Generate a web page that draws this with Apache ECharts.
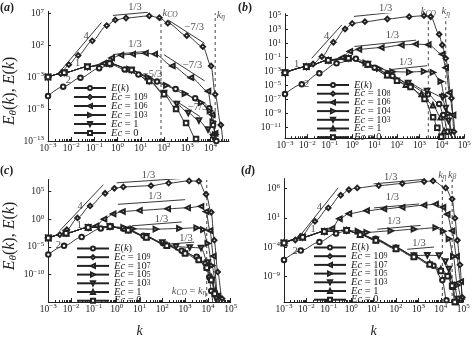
<!DOCTYPE html>
<html><head><meta charset="utf-8">
<script src="https://cdn.jsdelivr.net/npm/echarts@6/dist/echarts.min.js"></script>
<style>html,body{margin:0;padding:0;background:#fff}#c{width:474px;height:339px}</style>
</head><body><div id="c"></div>
<script>
// ---------------- DATA (k, E values) ----------------
// Panel (a)
const aE_k = [1e-3, 4.5e-3, 2.5e-2, 0.16, 0.5, 2, 7.9, 50, 316, 2.2e3, 8.9e3, 1.3e4, 1.8e4];
const aE_v = [1.1e-6, 3.2e-5, 7.9e-4, 2.5e-2, 0.1, 1.6e-2, 2.5e-3, 2e-4, 1.4e-5, 5e-7, 1.3e-8, 3.2e-11, 1e-13];
const a9_k = [1e-3, 3.5e-3, 7.9e-3, 2e-2, 8.1e-2, 0.34, 0.79, 2.3, 23, 63, 145, 955, 4.7e3, 1.07e4, 1.6e4, 2.8e4, 3.5e4];
const a9_v = [1e-3, 3.5e-3, 8.9e-2, 2.5, 4.7e2, 1.15e5, 8.9e5, 1.8e6, 3.8e6, 2e6, 2.8e5, 3.1e3, 59, 5.6e-2, 2e-6, 3.2e-11, 3.2e-14];
const a6_k = [1e-3, 5e-3, 5e-2, 0.25, 0.56, 1.4, 4.5, 16, 40, 230, 1.45e3, 7.9e3, 1.2e4, 1.6e4, 1.9e4];
const a6_v = [1e-3, 5e-3, 4e-2, 0.14, 1, 2.8, 4, 5.6, 4, 5.6e-2, 8.3e-4, 6.3e-6, 1.26e-9, 1.6e-12, 3.2e-14];
const a3_k = [1e-3, 5e-3, 5e-2, 0.45, 3.2, 20, 126, 790, 4e3, 9.5e3, 1.26e4, 1.6e4, 2e4];
const a3_v = [1e-3, 5e-3, 4e-2, 0.14, 1.8e-2, 1e-3, 5e-5, 2.5e-6, 1e-7, 5e-9, 1e-10, 1e-12, 3.2e-14];
const a1_k = [1e-3, 5e-3, 5e-2, 0.45, 4, 23, 100, 355, 1.1e3, 3.2e3, 7.9e3, 1.3e4, 1.6e4];
const a1_v = [1e-3, 5e-3, 4e-2, 0.14, 1.26e-2, 2.5e-4, 3.2e-6, 6.3e-8, 2.5e-9, 1.6e-10, 6.3e-12, 4e-13, 3.2e-14];
const a0_k = [1e-3, 5e-3, 5e-2, 0.45, 4, 23, 100, 330, 890, 2.4e3, 3.2e3];
const a0_v = [1e-3, 5e-3, 4e-2, 0.14, 1.26e-2, 2.5e-4, 2e-6, 1e-8, 6.3e-11, 2e-13, 2.5e-14];
const aRef = [ // [k1,k2],[E1,E2]
  [[3.3e-3, 0.2], [7.4e-3, 3.5e5]],
  [[0.63, 20], [4.5e6, 1.4e7]],
  [[0.63, 20], [3.5, 11]],
  [[4, 40], [1.6e-2, 3.4e-4]],
  [[158, 5.6e3], [7.9e5, 190]],
  [[100, 5.6e3], [3.2, 2.6e-4]],
  [[316, 3.5e3], [2e-7, 7e-10]]
];
const aLab = [['4', 4.4e-2, 2.8e3], ['1/3', 5.6, 1e8], ['1/3', 5.6, 160], ['1', 1.9e-2, 0.15], ['2', 7.6e-3, 3.2e-4],
  ['−5/3', 32, 3.2e-3], ['−7/3', 2e3, 5.6e4], ['−7/3', 1.7e3, 7.9e-2], ['−7/3', 2.8e3, 2e-8]];
const aVert = [[74, 1.6e6, '{i|k}{s|CO}', 1e7], [1.6e4, 1e7, '{i|k}{s|η}', 5.4e6]];

// Panel (b)
const bE_k = [1e-3, 5.6e-3, 3.4e-2, 0.2, 1.45, 10, 63, 410, 2.4e3, 7.6e3, 1.17e4, 1.8e4, 2.1e4];
const bE_v = [6.3e-7, 1.6e-5, 5.9e-4, 1.6e-2, 7.1e-2, 3.7e-3, 2.5e-4, 1e-5, 5.9e-7, 2.5e-8, 6.5e-10, 2.7e-12, 1e-13];
const b8_k = [1e-3, 8.9e-3, 1.8e-2, 4.4e-2, 0.145, 0.48, 1, 3.7, 37, 350, 1.6e3, 3.2e3, 7.6e3, 1.05e4, 1.5e4, 2.7e4, 3.5e4, 4e4];
const b8_v = [7.1e-4, 5.1e-3, 1.26e-2, 0.14, 16, 1.26e3, 7.9e3, 1.4e4, 3.4e4, 7.2e4, 1e5, 7.1e4, 220, 6.5, 8.1e-2, 1.6e-7, 2.7e-12, 1e-13];
const b6_k = [1e-3, 8.9e-3, 8.5e-2, 0.355, 0.79, 2, 20, 158, 680, 2.5e3, 1.05e4, 1.5e4, 2.2e4, 3.2e4, 4e4];
const b6_v = [7.1e-4, 5.1e-3, 4.3e-2, 0.1, 0.79, 1.6, 2.8, 6.3, 8.9, 7.1, 0.31, 3.7e-3, 1e-6, 6.5e-10, 1e-13];
const b4_k = [1e-3, 8.9e-3, 8.5e-2, 0.68, 4, 16, 63, 350, 1.6e3, 4e3, 8.9e3, 1.3e4, 2e4, 2.8e4];
const b4_v = [7.1e-4, 5.1e-3, 4.3e-2, 8.1e-2, 1.8e-2, 2.8e-3, 1e-3, 8.9e-4, 1.1e-3, 7.9e-4, 4e-5, 3.2e-7, 1e-9, 1.6e-13];
const b3_k = [1e-3, 8.9e-3, 8.5e-2, 0.68, 5, 40, 316, 2.2e3, 1.05e4, 1.5e4, 2e4, 2.5e4, 2.8e4];
const b3_v = [7.1e-4, 5.1e-3, 4.3e-2, 8.1e-2, 1.26e-2, 5e-4, 2.5e-5, 1.7e-6, 2.5e-7, 6.3e-9, 1e-10, 2.5e-12, 1e-13];
const b1_k = [1e-3, 8.9e-3, 8.5e-2, 0.68, 5, 37, 250, 1.26e3, 4e3, 8.9e3, 1.26e4, 1.6e4];
const b1_v = [7.1e-4, 5.1e-3, 4.3e-2, 8.1e-2, 1.1e-2, 3.5e-4, 1.4e-5, 6.3e-7, 1.6e-8, 3.2e-10, 3.2e-12, 1e-13];
const b0_k = [1e-3, 8.9e-3, 8.5e-2, 0.68, 5, 37, 100, 400, 1.7e3, 4.1e3, 6.3e3, 9.5e3, 1.12e4];
const b0_v = [7.1e-4, 5.1e-3, 4.3e-2, 8.1e-2, 1.1e-2, 3.2e-4, 5e-5, 6.3e-6, 1.26e-7, 3.2e-10, 1e-11, 5e-13, 6.3e-14];
const bRef = [
  [[1.55e-2, 0.34], [8.1e-2, 4.7e3]],
  [[1.2, 680], [7.9e4, 6.3e5]],
  [[1.26, 710], [4, 32]],
  [[50, 2.2e3], [2e-3, 7.1e-3]]
];
const bLab = [['4', 7.2e-2, 100], ['1/3', 31, 1.15e6], ['1/3', 62, 174], ['1/3', 245, 2.2e-2], ['1', 3.3e-3, 1e-2], ['2', 9.3e-3, 1.7e-5]];
const bVert = [[2.5e3, 6.3e4, '{i|k}{s|CO}', 3.7e5], [1.5e4, 6.3e4, '{i|k}{s|η}', 3.7e5]];

// Panel (c)
const cE_k = [1e-3, 4.9e-3, 2.9e-2, 0.2, 0.56, 2, 15, 105, 710, 3.2e3, 7.9e3, 1.15e4, 1.4e4, 1.66e4];
const cE_v = [4e-7, 1.5e-5, 6e-4, 2.1e-2, 5e-2, 1.8e-2, 1e-3, 5e-5, 2e-6, 1.6e-7, 1e-8, 3.2e-11, 1e-13, 3.2e-16];
const c9_k = [1e-3, 3.2e-3, 6.5e-3, 1.9e-2, 6.8e-2, 0.31, 0.79, 1.95, 32, 190, 1.5e3, 4e3, 8.3e3, 1.4e4, 1.9e4, 2.7e4, 4.2e4, 4.6e4];
const c9_v = [4e-4, 1.6e-3, 1.26e-2, 1.7, 257, 5.1e4, 4e5, 7.2e5, 1.2e6, 3.5e6, 8.9e6, 7.9e6, 3.4e4, 18, 1.6e-4, 2.8e-10, 4e-15, 3.2e-16];
const c7_k = [1e-3, 6e-3, 5.6e-2, 0.126, 0.28, 0.7, 1.8, 10, 174, 1.3e3, 5e3, 8.3e3, 1.23e4, 1.74e4, 2.7e4, 3.2e4];
const c7_v = [4e-4, 3e-3, 3.2e-2, 6.3e-2, 1, 8.9, 25, 40, 79, 117, 220, 24, 8.5e-3, 2.1e-7, 1.26e-14, 3.2e-16];
const c5_k = [1e-3, 6e-3, 5.6e-2, 0.51, 2, 5, 52, 560, 3.2e3, 6.3e3, 9.8e3, 1.5e4, 2.7e4, 3e4];
const c5_v = [4e-4, 3e-3, 3.2e-2, 4.7e-2, 3.2e-2, 1.8e-2, 1.6e-2, 2.1e-2, 2.8e-2, 1.26e-2, 4.2e-5, 4e-9, 7.9e-15, 3.2e-16];
const c3_k = [1e-3, 6e-3, 5.6e-2, 0.51, 3.2, 20, 100, 400, 1.6e3, 5e3, 9.8e3, 1.5e4, 2.3e4, 2.6e4];
const c3_v = [4e-4, 3e-3, 3.2e-2, 4.7e-2, 1.26e-2, 7.9e-4, 6.3e-5, 1.1e-5, 7.9e-6, 6.3e-6, 1.5e-8, 1e-11, 4e-15, 3.2e-16];
const c1_k = [1e-3, 6e-3, 5.6e-2, 0.51, 3.2, 20, 158, 1e3, 4e3, 8.9e3, 1.4e4, 2.1e4, 2.6e4];
const c1_v = [4e-4, 3e-3, 3.2e-2, 4.7e-2, 1.1e-2, 6.3e-4, 2.2e-5, 1e-6, 7.9e-8, 4e-9, 3.2e-11, 1e-13, 3.2e-16];
const c0_k = [1e-3, 6e-3, 5.6e-2, 0.51, 3.2, 20, 158, 1e3, 4e3, 8.9e3, 1.4e4, 2e4, 2.5e4];
const c0_v = [4e-4, 3e-3, 3.2e-2, 4.7e-2, 1e-2, 5e-4, 1.6e-5, 6.3e-7, 4e-8, 1.6e-9, 1e-11, 3.2e-14, 3.2e-16];
const cRef = [
  [[3.2e-3, 0.26], [8.5e-3, 1.8e6]],
  [[1, 794], [4e6, 2.5e7]],
  [[1.12, 1e3], [500, 3.5e3]],
  [[4.6, 710], [6.3e-2, 0.32]],
  [[200, 2.5e3], [3.2e-5, 7.1e-5]]
];
const cLab = [['4', 2.5e-2, 257], ['1/3', 25, 1e8], ['1/3', 48, 1.7e4], ['1/3', 93, 0.85], ['1/3', 1.1e3, 4e-4],
  ['1', 2.3e-2, 9.3e-2], ['2', 2.75e-3, 2.2e-5], ['{i|k}{s|CO}{n| = }{i|k}{s|η}', 1.5e3, 1e-13]];
const cVert = [[8.9e3, 1.26e7, '', 1]];

// Panel (d)
const dE_k = [1e-3, 5.6e-3, 3.8e-2, 0.21, 0.63, 2.5, 12.3, 98, 680, 4.7e3, 1.17e4, 1.8e4, 2e4];
const dE_v = [6.3e-7, 2.5e-5, 7.2e-4, 2.1e-2, 6.3e-2, 1.6e-2, 2.5e-3, 7.8e-5, 2.6e-6, 6.2e-8, 2.2e-10, 7.9e-14, 1e-14];
const d9_k = [1e-3, 3.2e-3, 5.6e-3, 2.4e-2, 9.5e-2, 0.34, 0.79, 1.86, 17, 190, 1.8e3, 4.5e3, 1.66e4, 3.2e4, 4.3e4, 5.5e4, 7.2e4, 9.1e4, 9.8e4];
const d9_v = [5e-4, 1.6e-3, 6.3e-3, 2.5, 490, 7.2e4, 6.3e5, 1.3e6, 3.2e6, 7.1e6, 1.6e7, 2e7, 1.3e6, 1.6e4, 8.7, 1.4e-3, 8.9e-8, 2.5e-13, 1e-14];
const d7_k = [1e-3, 6.8e-3, 6.3e-2, 0.14, 0.3, 0.79, 4.9, 29, 190, 1.8e3, 5.9e3, 1.26e4, 1.95e4, 3.2e4, 5.1e4, 7.8e4, 9.3e4];
const d7_v = [5e-4, 4.8e-3, 4.6e-2, 0.16, 6.8, 50, 160, 320, 630, 1.4e3, 2.2e3, 630, 40, 5.9e-2, 2.6e-6, 1.26e-10, 1e-14];
const d5_k = [1e-3, 6.8e-3, 6.3e-2, 0.63, 2, 4.9, 58, 630, 5.9e3, 1.26e4, 2.3e4, 3.6e4, 5.5e4, 8.3e4, 8.9e4];
const d5_v = [5e-4, 4.8e-3, 4.6e-2, 7.4e-2, 5e-2, 3.2e-2, 5.9e-2, 0.11, 0.2, 5e-2, 2.5e-3, 2.6e-6, 3.2e-11, 1.26e-13, 1e-14];
const d3_k = [1e-3, 6.8e-3, 6.3e-2, 0.63, 2.5, 12.6, 100, 630, 2.5e3, 8.3e3, 1.6e4, 2.3e4, 3.9e4, 5.9e4, 6.3e4];
const d3_v = [5e-4, 4.8e-3, 4.6e-2, 7.4e-2, 1.6e-2, 1.8e-3, 7.1e-5, 3.4e-6, 4e-6, 3.4e-6, 3.2e-7, 1.7e-8, 3.2e-11, 1.26e-13, 1e-14];
const d1_k = [1e-3, 6.8e-3, 6.3e-2, 0.63, 2.5, 12.6, 100, 630, 3.2e3, 1e4, 2.2e4, 3.5e4, 4.7e4, 5e4];
const d1_v = [5e-4, 4.8e-3, 4.6e-2, 7.4e-2, 1.4e-2, 1.6e-3, 6.3e-5, 2.8e-6, 1.6e-7, 1.6e-8, 1.6e-9, 1.6e-11, 4e-14, 1e-14];
const d0_k = [1e-3, 6.8e-3, 6.3e-2, 0.63, 2.5, 12.6, 100, 630, 3.2e3, 1e4, 2e4, 3.2e4, 4.2e4, 4.6e4];
const d0_v = [5e-4, 4.8e-3, 4.6e-2, 7.4e-2, 1.26e-2, 1.26e-3, 4.5e-5, 2e-6, 1e-7, 7.9e-9, 1e-9, 2.5e-11, 4e-14, 1e-14];
const dRef = [
  [[3.1e-3, 0.26], [7.2e-4, 1.3e6]],
  [[10, 1.6e3], [6.3e6, 3.5e7]],
  [[10.5, 1.07e3], [490, 2.3e3]],
  [[14.5, 1.26e3], [0.11, 0.5]],
  [[316, 5e3], [4.1e-5, 1e-4]]
];
const dLab = [['4', 3.8e-2, 710], ['1/3', 58, 1e8], ['1/3', 69, 3e4], ['1/3', 81, 2.5], ['1/3', 1.07e3, 5e-4], ['1', 2e-2, 0.11], ['2', 3.1e-3, 1.7e-5]];
const dVert = [[1.17e4, 3.2e7, '{i|k}{s|η}', 1.9e8], [3.2e4, 3.2e7, '{i|k}{s|β}', 1.9e8]];

// tick exponents
const xTicksA = [-3, -2, -1, 0, 1, 2, 3, 4];
const xTicksB = [-3, -2, -1, 0, 1, 2, 3, 4, 5];
const yTicksA = [-13, -8, -3, 2, 7];
const yTicksB = [-11, -9, -7, -5, -3, -1, 1, 3, 5];
const yTicksC = [-10, -5, 0, 5];
const yTicksD = [-9, -4, 1, 6];

// ---------------- BUILD ----------------
const FONT = '"Liberation Serif","DejaVu Serif","Times New Roman",serif';
const INK = '#222';
const lg = Math.log10;
const SYM = {E: ['emptyCircle', 0], d: ['emptyDiamond', 0], L: ['emptyTriangle', 90], R: ['emptyTriangle', -90],
  D: ['emptyTriangle', 180], U: ['emptyTriangle', 0], S: ['emptyRect', 0]};
const RICH = {
  i: {fontFamily: FONT, fontStyle: 'italic', fontSize: 10.5, color: INK, lineHeight: 12},
  n: {fontFamily: FONT, fontSize: 10.5, color: INK, lineHeight: 12},
  s: {fontFamily: FONT, fontStyle: 'italic', fontSize: 7.5, color: INK, lineHeight: 4, verticalAlign: 'bottom'}
};
const LEG_RICH = {
  i: {fontFamily: FONT, fontStyle: 'italic', fontSize: 10.5, color: INK, lineHeight: 8},
  n: {fontFamily: FONT, fontSize: 10.5, color: INK, lineHeight: 8},
  s: {fontFamily: FONT, fontSize: 7.5, color: INK, lineHeight: 1, verticalAlign: 'top'}
};
const TICK_RICH = {
  b: {fontFamily: FONT, fontSize: 9.5, color: INK, lineHeight: 12},
  s: {fontFamily: FONT, fontSize: 7, color: INK, lineHeight: 3, verticalAlign: 'top'}
};
const YNAME_RICH = {
  i: {fontFamily: FONT, fontStyle: 'italic', fontSize: 16, fill: INK, lineHeight: 18},
  n: {fontFamily: FONT, fontSize: 16, fill: INK, lineHeight: 18},
  s: {fontFamily: FONT, fontStyle: 'italic', fontSize: 11, fill: INK, lineHeight: 6, verticalAlign: 'bottom'}
};
const tickFmt = v => { const e = Math.round(v); return '{b|10}{s|' + (e < 0 ? '−' + (-e) : e) + '}'; };
const ecLab = p => p === '1' || p === '0' ? '{i|Ec}{n| = ' + p + '}' : '{i|Ec}{n| = 10}{s|' + p + '}';
const EK = '{i|E}{n|(}{i|k}{n|)}';
const YNAME = '{i|E}{s|θ}{n|(}{i|k}{n|), }{i|E}{n|(}{i|k}{n|)}';

const PANELS = [
  {id: 'a', grid: {left: 48, top: 11.3, width: 181, height: 129.7}, x: [-3, 4.8], y: [-13, 7.3], xt: xTicksA, yt: yTicksA,
   ser: [['E', aE_k, aE_v, 'E(k)'], ['d', a9_k, a9_v, '9'], ['L', a6_k, a6_v, '6'], ['R', a3_k, a3_v, '3'], ['D', a1_k, a1_v, '1'], ['S', a0_k, a0_v, '0']],
   ref: aRef, lab: aLab, vert: aVert, vpos: 'right', leg: {left: 73, top: 82.5, h: 9}, yname: [10, 91], xname: false},
  {id: 'b', grid: {left: 285, top: 13.6, width: 179.2, height: 124.6}, x: [-3, 5], y: [-12.5, 5.3], xt: xTicksB, yt: yTicksB,
   ser: [['E', bE_k, bE_v, 'E(k)'], ['d', b8_k, b8_v, '8'], ['L', b6_k, b6_v, '6'], ['R', b4_k, b4_v, '4'], ['D', b3_k, b3_v, '3'], ['U', b1_k, b1_v, '1'], ['S', b0_k, b0_v, '0']],
   ref: bRef, lab: bLab, vert: bVert, vpos: 'inside', leg: {left: 316, top: 79.5, h: 8.7}, yname: null, xname: false},
  {id: 'c', grid: {left: 48.3, top: 179.5, width: 182.4, height: 128.8}, x: [-3, 5], y: [-15, 7.2], xt: xTicksB, yt: yTicksC,
   ser: [['E', cE_k, cE_v, 'E(k)'], ['d', c9_k, c9_v, '9'], ['L', c7_k, c7_v, '7'], ['R', c5_k, c5_v, '5'], ['D', c3_k, c3_v, '3'], ['U', c1_k, c1_v, '1'], ['S', c0_k, c0_v, '0']],
   ref: cRef, lab: cLab, vert: cVert, vpos: 'inside', leg: {left: 76, top: 243, h: 8.7}, yname: [10, 236], xname: true},
  {id: 'd', grid: {left: 284, top: 178.6, width: 179.2, height: 129.3}, x: [-3, 5], y: [-13.4, 7.7], xt: xTicksB, yt: yTicksD,
   ser: [['E', dE_k, dE_v, 'E(k)'], ['d', d9_k, d9_v, '9'], ['L', d7_k, d7_v, '7'], ['R', d5_k, d5_v, '5'], ['D', d3_k, d3_v, '3'], ['U', d1_k, d1_v, '1'], ['S', d0_k, d0_v, '0']],
   ref: dRef, lab: dLab, vert: dVert, vpos: 'inside', leg: {left: 313, top: 242, h: 8.7}, yname: null, xname: true}
];

const grid = [], xAxis = [], yAxis = [], series = [], legend = [], title = [], graphic = [];
const LABELS = {};
PANELS.forEach((P, pi) => {
  grid.push(Object.assign({containLabel: false}, P.grid));
  const minor = [];
  for (let n = Math.floor(P.x[0]); n < P.x[1]; n++) for (let m = 2; m <= 9; m++) { const v = n + lg(m); if (v > P.x[0] && v < P.x[1]) minor.push(v); }
  xAxis.push({type: 'value', gridIndex: pi, position: 'bottom', min: P.x[0], max: P.x[1], splitLine: {show: false},
    axisLine: {onZero: false, lineStyle: {color: INK, width: 1}}, axisTick: {inside: true, length: 4, customValues: P.xt, lineStyle: {color: INK}},
    axisLabel: {customValues: P.xt, formatter: tickFmt, rich: TICK_RICH, margin: 1, color: INK},
    name: P.xname ? 'k' : '', nameLocation: 'middle', nameGap: 22,
    nameTextStyle: {fontFamily: FONT, fontStyle: 'italic', fontSize: 14, color: INK}});
  xAxis.push({type: 'value', gridIndex: pi, position: 'bottom', min: P.x[0], max: P.x[1], splitLine: {show: false},
    axisLine: {show: false, onZero: false},
    axisTick: {inside: true, length: 2, customValues: minor, lineStyle: {color: INK}}, axisLabel: {show: false}});
  yAxis.push({type: 'value', gridIndex: pi, position: 'left', min: P.y[0], max: P.y[1], splitLine: {show: false},
    axisLine: {show: true, onZero: false, lineStyle: {color: INK, width: 1}}, axisTick: {show: true, inside: true, length: 3, customValues: P.yt, lineStyle: {color: INK}},
    axisLabel: {customValues: P.yt, formatter: tickFmt, rich: TICK_RICH, margin: 4, color: INK}});
  if (P.yname) graphic.push({type: 'text', x: P.yname[0], y: P.yname[1], rotation: Math.PI / 2, silent: true,
    style: {text: YNAME, align: 'center', verticalAlign: 'middle', fill: INK, rich: YNAME_RICH}});
  const xi = pi * 2, yi = pi;
  P.ser.forEach(([sym, ks, vs, lab], si) => {
    const nm = P.id + ':' + lab;
    LABELS[nm] = lab === 'E(k)' ? EK : ecLab(lab);
    series.push({type: 'line', name: nm, xAxisIndex: xi, yAxisIndex: yi,
      data: ks.map((k, i) => [lg(k), lg(vs[i])]),
      symbol: SYM[sym][0], symbolRotate: SYM[sym][1], symbolSize: 4.5, showAllSymbol: true,
      smooth: 0.3, smoothMonotone: 'x', clip: true,
      lineStyle: {color: INK, width: 0.9}, itemStyle: {color: INK, borderWidth: 0.8},
      emphasis: {disabled: true}, animation: false, z: 3});
    // one legend entry per row so the row pitch is exact
    legend.push({orient: 'vertical', left: P.leg.left, top: P.leg.top + si * P.leg.h, itemWidth: 32, itemHeight: 5,
      padding: 0, selectedMode: false, data: [nm], formatter: n => LABELS[n],
      textStyle: {fontFamily: FONT, fontSize: 10.5, color: INK, lineHeight: 8, rich: LEG_RICH}});
  });
  P.ref.forEach(([ks, vs]) => series.push({type: 'line', xAxisIndex: xi, yAxisIndex: yi, silent: true,
    data: ks.map((k, i) => [lg(k), lg(vs[i])]), symbol: 'none', lineStyle: {color: INK, width: 0.9}, animation: false, z: 2}));
  P.vert.forEach(([k, top]) => series.push({type: 'line', xAxisIndex: xi, yAxisIndex: yi, silent: true,
    data: [[lg(k), P.y[0]], [lg(k), lg(top)]], symbol: 'none', lineStyle: {color: '#444', width: 1, type: [3, 3]}, animation: false, z: 1}));
  const labData = P.lab.map(([t, k, v]) => ({name: t, value: [lg(k), lg(v)]}))
    .concat(P.vert.filter(v => v[2]).map(([k, top, t, ly]) => ({name: t, value: [lg(k), lg(ly)],
      label: {position: P.vpos, distance: 1}})));
  series.push({type: 'scatter', xAxisIndex: xi, yAxisIndex: yi, silent: true, clip: false, symbolSize: 1,
    itemStyle: {color: 'rgba(0,0,0,0)'}, data: labData, animation: false, z: 6,
    label: {show: true, position: 'inside', color: INK, fontFamily: FONT, fontSize: 10.5,
      formatter: p => p.name.indexOf('{') >= 0 ? p.name : '{n|' + p.name + '}', rich: RICH}});
});
title.push({text: '{n|(}{i|a}{n|)}', left: 0, top: 1}, {text: '{n|(}{i|b}{n|)}', left: 238, top: 1},
  {text: '{n|(}{i|c}{n|)}', left: 0, top: 164}, {text: '{n|(}{i|d}{n|)}', left: 241, top: 164});
title.forEach(t => { t.padding = 0; t.textStyle = {rich: {
  i: {fontFamily: FONT, fontStyle: 'italic', fontSize: 12, color: INK, lineHeight: 14},
  n: {fontFamily: FONT, fontSize: 12, color: INK, lineHeight: 14}}}; });

const chart = echarts.init(document.getElementById('c'), null, {renderer: 'canvas'});
chart.setOption({backgroundColor: '#fff', animation: false, title, grid, xAxis, yAxis, series, legend, graphic});
</script></body></html>
